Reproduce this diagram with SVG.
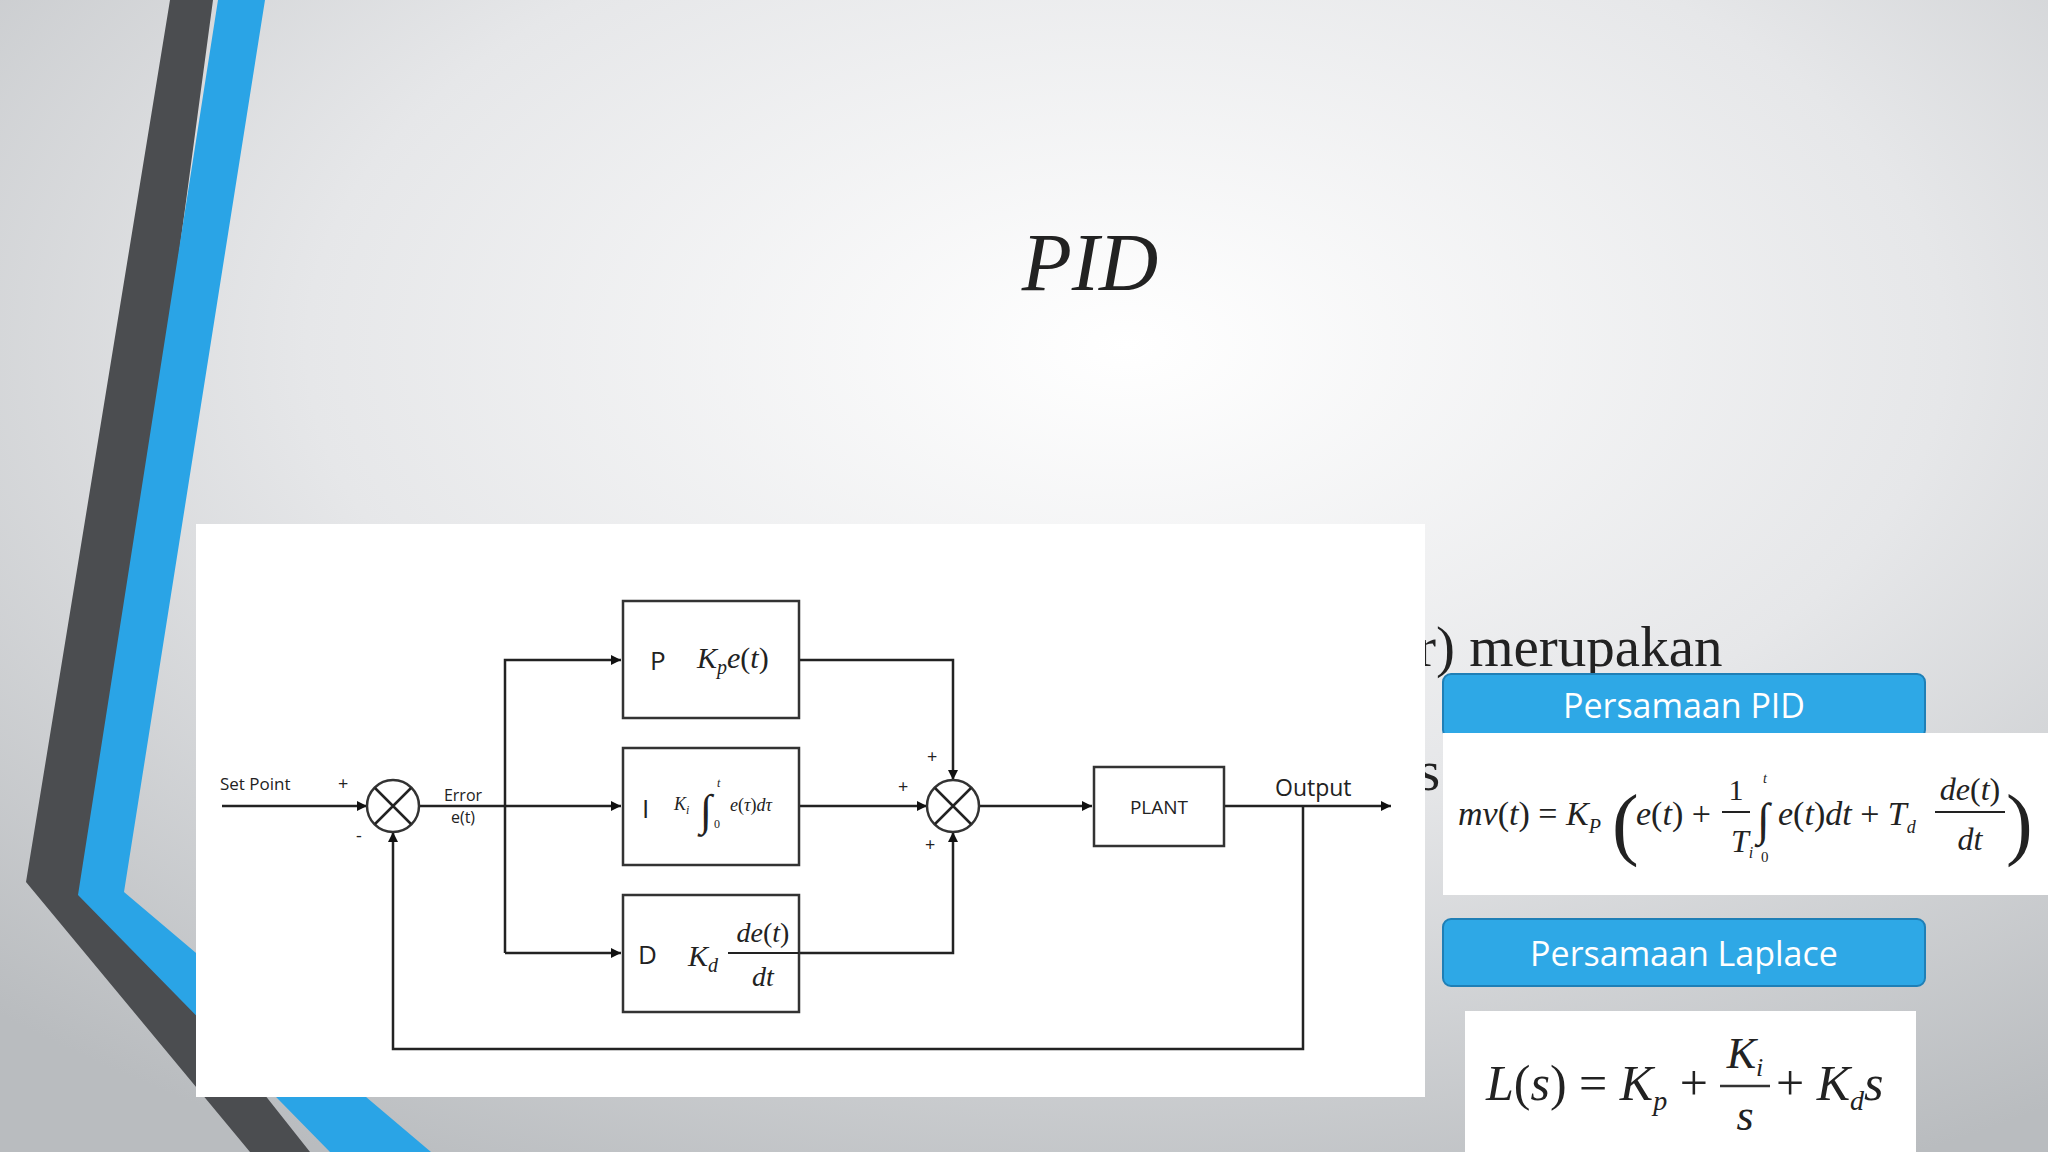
<svg xmlns="http://www.w3.org/2000/svg" width="2048" height="1152" viewBox="0 0 2048 1152">
<defs>
<radialGradient id="bg" cx="0.55" cy="0.3" r="0.8">
<stop offset="0" stop-color="#ffffff"/><stop offset="0.5" stop-color="#e6e7e9"/><stop offset="1" stop-color="#b9bcbf"/>
</radialGradient>
<marker id="ar" viewBox="0 0 10 10" refX="10" refY="5" markerWidth="10" markerHeight="10" markerUnits="userSpaceOnUse" orient="auto"><path d="M0,0 L10,5 L0,10 z" fill="#111"/></marker>
<style>
.ln{fill:none;stroke:#222;stroke-width:2.5}
.box{fill:#fff;stroke:#333;stroke-width:2.5}
.sans{font-family:"Open Sans","DejaVu Sans",sans-serif;fill:#222}
.m{font-family:"Liberation Serif",serif;font-style:italic;fill:#222}
.r{font-family:"Liberation Serif",serif;fill:#222}
.hdr{fill:#2ea8e6;stroke:#1f7fb6;stroke-width:2}
.ht{font-family:"Open Sans","Noto Sans",sans-serif;font-size:34px;fill:#fff;text-anchor:middle}
</style>
</defs>
<rect width="2048" height="1152" fill="url(#bg)"/>
<polygon points="170,0 213,0 95,880 310,1152 250,1152 26,882" fill="#4b4d50"/>
<polygon points="218,0 265,0 124,892 431,1152 330,1152 78,895" fill="#2aa4e6"/>
<text x="1090" y="290" class="m" font-size="82" text-anchor="middle" fill="#111">PID</text>
<text x="1417" y="666" class="r" font-size="57" fill="#222">r) merupakan</text>
<text x="1418" y="790" class="r" font-size="57" fill="#222">s</text>
<rect x="196" y="524" width="1229" height="573" fill="#fff"/>
<g id="connectors">
<path class="ln" d="M222,806 H367" marker-end="url(#ar)"/>
<path class="ln" d="M419,806 H621" marker-end="url(#ar)"/>
<path class="ln" d="M505,953 V660 H621" marker-end="url(#ar)"/>
<path class="ln" d="M505,953 H621" marker-end="url(#ar)"/>
<path class="ln" d="M799,660 H953 V780" marker-end="url(#ar)"/>
<path class="ln" d="M799,806 H927" marker-end="url(#ar)"/>
<path class="ln" d="M799,953 H953 V832" marker-end="url(#ar)"/>
<path class="ln" d="M979,806 H1092" marker-end="url(#ar)"/>
<path class="ln" d="M1224,806 H1391" marker-end="url(#ar)"/>
<path class="ln" d="M1303,806 V1049 H393 V832" marker-end="url(#ar)"/>
</g>
<g id="sum1"><circle cx="393" cy="806" r="26" class="box"/><path class="ln" d="M375,788 L411,824 M411,788 L375,824"/>
<text x="338" y="790" class="sans" font-size="18">+</text><text x="356" y="842" class="sans" font-size="18">-</text></g>
<g id="sum2"><circle cx="953" cy="806" r="26" class="box"/><path class="ln" d="M935,788 L971,824 M971,788 L935,824"/>
<text x="927" y="763" class="sans" font-size="18">+</text><text x="898" y="793" class="sans" font-size="18">+</text><text x="925" y="851" class="sans" font-size="18">+</text></g>
<text x="220" y="790" class="sans" font-size="17">Set Point</text>
<text x="463" y="801" class="sans" font-size="16" text-anchor="middle">Error</text>
<text x="463" y="823" class="sans" font-size="16" text-anchor="middle">e(t)</text>
<g id="P"><rect x="623" y="601" width="176" height="117" class="box"/>
<text x="650" y="670" class="sans" font-size="26">P</text>
<text x="697" y="668" class="m" font-size="30">K<tspan font-size="20" dy="6">p</tspan><tspan dy="-6">e</tspan><tspan font-style="normal">(</tspan>t<tspan font-style="normal">)</tspan></text></g>
<g id="I"><rect x="623" y="748" width="176" height="117" class="box"/>
<text x="642" y="818" class="sans" font-size="26">I</text>
<text x="674" y="810" class="m" font-size="18">K<tspan font-size="12" dy="4">i</tspan></text>
<text x="700" y="825" class="m" font-size="44">∫</text>
<text x="717" y="787" class="m" font-size="12">t</text><text x="714" y="828" class="r" font-size="12">0</text>
<text x="730" y="811" class="m" font-size="18">e<tspan font-style="normal">(</tspan>τ<tspan font-style="normal">)</tspan>dτ</text></g>
<g id="D"><rect x="623" y="895" width="176" height="117" class="box"/>
<text x="638" y="964" class="sans" font-size="26">D</text>
<text x="688" y="966" class="m" font-size="30">K<tspan font-size="20" dy="6">d</tspan></text>
<text x="763" y="942" class="m" font-size="28" text-anchor="middle">de<tspan font-style="normal">(</tspan>t<tspan font-style="normal">)</tspan></text>
<line x1="728" y1="953" x2="799" y2="953" stroke="#222" stroke-width="2"/>
<text x="763" y="986" class="m" font-size="28" text-anchor="middle">dt</text></g>
<g id="plant"><rect x="1094" y="767" width="130" height="79" class="box"/>
<text x="1159" y="814" class="sans" font-size="19" text-anchor="middle">PLANT</text></g>
<text x="1275" y="796" class="sans" font-size="23">Output</text>
<g id="pidhdr"><rect x="1443" y="674" width="482" height="64" rx="8" class="hdr"/><text x="1684" y="718" class="ht">Persamaan PID</text></g>
<g id="pideq"><rect x="1443" y="733" width="605" height="162" fill="#fff"/>
<text x="1458" y="825" class="m" font-size="34">mv<tspan font-style="normal">(</tspan>t<tspan font-style="normal">) = </tspan>K<tspan font-size="20" dy="8">P</tspan></text>
<text x="1612" y="850" class="r" font-size="80">(</text>
<text x="1636" y="825" class="m" font-size="34">e<tspan font-style="normal">(</tspan>t<tspan font-style="normal">) + </tspan></text>
<text x="1736" y="800" class="r" font-size="30" text-anchor="middle">1</text>
<line x1="1722" y1="812" x2="1750" y2="812" stroke="#222" stroke-width="2"/>
<text x="1731" y="852" class="m" font-size="32">T<tspan font-size="16" dy="6">i</tspan></text>
<text x="1757" y="835" class="m" font-size="46">∫</text>
<text x="1763" y="783" class="m" font-size="14">t</text><text x="1761" y="862" class="r" font-size="15">0</text>
<text x="1778" y="825" class="m" font-size="34">e<tspan font-style="normal">(</tspan>t<tspan font-style="normal">)</tspan>dt<tspan font-style="normal"> + </tspan>T<tspan font-size="18" dy="8">d</tspan></text>
<text x="1970" y="800" class="m" font-size="32" text-anchor="middle">de<tspan font-style="normal">(</tspan>t<tspan font-style="normal">)</tspan></text>
<line x1="1935" y1="812" x2="2005" y2="812" stroke="#222" stroke-width="2"/>
<text x="1970" y="850" class="m" font-size="32" text-anchor="middle">dt</text>
<text x="2006" y="850" class="r" font-size="80">)</text></g>
<g id="laphdr"><rect x="1443" y="919" width="482" height="67" rx="8" class="hdr"/><text x="1684" y="966" class="ht">Persamaan Laplace</text></g>
<g id="lapeq"><rect x="1465" y="1011" width="451" height="141" fill="#fff"/>
<text x="1486" y="1100" class="m" font-size="50">L<tspan font-style="normal">(</tspan>s<tspan font-style="normal">) = </tspan>K<tspan font-size="28" dy="10">p</tspan><tspan font-style="normal" dy="-10"> +</tspan></text>
<text x="1745" y="1068" class="m" font-size="44" text-anchor="middle">K<tspan font-size="26" dy="8">i</tspan></text>
<line x1="1720" y1="1086" x2="1770" y2="1086" stroke="#333" stroke-width="2.5"/>
<text x="1745" y="1130" class="m" font-size="44" text-anchor="middle">s</text>
<text x="1776" y="1100" class="m" font-size="50"><tspan font-style="normal">+ </tspan>K<tspan font-size="28" dy="10">d</tspan><tspan dy="-10">s</tspan></text></g>
</svg>
